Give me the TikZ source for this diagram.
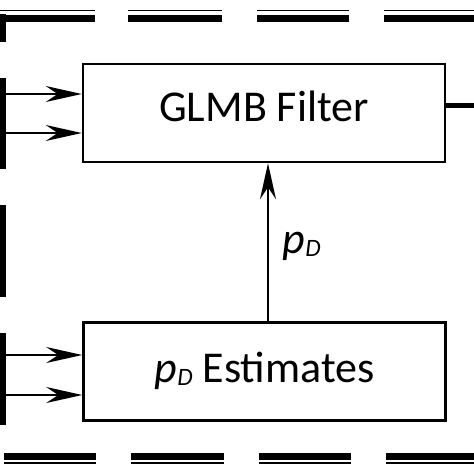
\documentclass[tikz,border=0pt]{standalone}
\usepackage{fontspec}
\setmainfont{Carlito}
\usetikzlibrary{arrows.meta}
\newcommand{\pDsym}{{\itshape p\kern0.5pt\raisebox{-3pt}{\fontsize{25}{25}\selectfont D}}}
\begin{document}
\begin{tikzpicture}[x=1pt,y=-1pt,
  box/.style={draw, line width=2.5pt, minimum width=362pt, minimum height=98pt, inner sep=0pt, font=\fontsize{44}{52}\selectfont},
  arr/.style={line width=2pt, -{Stealth[length=36pt,width=16pt,inset=12pt]}},
  bthick/.style={line width=7pt},
  bthin/.style={line width=1.8pt},
  lbl/.style={font=\fontsize{44}{52}\selectfont, inner sep=0pt}]
\useasboundingbox (0,0) rectangle (474,474);
\fill[white] (0,0) rectangle (474,474);
\begin{scope}
\clip (0,0) rectangle (474,474);
% top border
\foreach \a/\b in {-5/95,128/222,257/349,384/480}{
  \draw[bthin] (\a,10.5) -- (\b,10.5);
  \draw[bthick] (\a,18) -- (\b,18);
}
% bottom border
\foreach \a/\b in {4/96,131/224,259/351,386/480}{
  \draw[bthick] (\a,456) -- (\b,456);
  \draw[bthin] (\a,463) -- (\b,463);
}
% left border
\foreach \a/\b in {14/42,78/169,205/297,333/425}{
  \draw[bthick] (2.5,\a) -- (2.5,\b);
}
\end{scope}
\node[box, text height=27pt, text depth=11pt] (glmb) at (264,113) {GLMB Filter};
\node[box, text height=28pt, text depth=7pt] (est) at (264.5,371.5) {\pDsym\ Estimates};
% left inputs
\coordinate (i1) at (6,94);
\coordinate (i2) at (6,133);
\coordinate (i3) at (6,355);
\coordinate (i4) at (6,395);
\draw[arr] (i1) -- (i1 -| glmb.west);
\draw[arr] (i2) -- (i2 -| glmb.west);
\draw[arr] (i3) -- (i3 -| est.west);
\draw[arr] (i4) -- (i4 -| est.west);
% vertical connection
\coordinate (vx) at (268,0);
\draw[arr] (vx |- est.north) -- (vx |- glmb.south);
\node[lbl, anchor=base west] (pdl) at (282,253) {\pDsym};
% output
\coordinate (rout) at (474,105.5);
\draw[line width=5pt] (rout -| glmb.east) -- (rout);
\end{tikzpicture}
\end{document}
